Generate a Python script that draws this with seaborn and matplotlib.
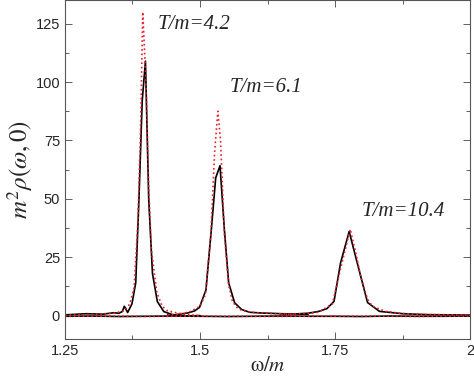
import numpy as np
import pandas as pd
import matplotlib
matplotlib.use('Agg')
import matplotlib.pyplot as plt
import seaborn as sns
from matplotlib.ticker import MultipleLocator

# spectral function peaks, omega/m vs m^2 rho(omega,0)
# T/m = 4.2
x_42_black = [1.25, 1.29, 1.32, 1.34, 1.35, 1.356, 1.36, 1.366, 1.374, 1.381, 1.387, 1.393,
              1.399, 1.405, 1.412, 1.421, 1.433, 1.449, 1.47, 1.50]
y_42_black = [0.3, 0.8, 0.6, 1.2, 1.0, 1.7, 4.0, 1.3, 5.0, 14.0, 50.0, 92.0,
              109.0, 50.0, 18.0, 6.0, 1.7, 0.4, -0.2, 0.0]
x_42_red = [1.25, 1.30, 1.34, 1.36, 1.37, 1.378, 1.385, 1.39, 1.394, 1.40, 1.405, 1.41,
            1.42, 1.43, 1.44, 1.46, 1.48, 1.50]
y_42_red = [0.2, 0.5, 1.0, 2.0, 5.0, 12.0, 40.0, 80.0, 130.0, 100.0, 55.0, 28.0,
            10.0, 4.0, 2.0, 1.0, 0.3, 0.0]

# T/m = 6.1
x_61_black = [1.44, 1.446, 1.462, 1.477, 1.49, 1.499, 1.511, 1.521, 1.529, 1.537, 1.545,
              1.553, 1.564, 1.577, 1.592, 1.614, 1.65, 1.676, 1.70]
y_61_black = [0.3, 0.0, 0.6, 1.1, 2.0, 3.5, 11.0, 37.0, 59.0, 64.2, 37.0,
              14.0, 5.5, 2.6, 1.4, 1.1, 0.8, 0.7, 0.5]
x_61_red = [1.44, 1.46, 1.48, 1.50, 1.51, 1.52, 1.527, 1.533, 1.538, 1.545, 1.553,
            1.56, 1.57, 1.58, 1.60, 1.64, 1.68]
y_61_red = [0.3, 0.6, 1.5, 4.0, 9.0, 35.0, 70.0, 87.5, 75.0, 35.0, 13.0,
            6.0, 3.0, 2.0, 1.3, 0.8, 0.5]

# T/m = 10.4
x_104_black = [1.65, 1.676, 1.70, 1.72, 1.735, 1.748, 1.76, 1.776, 1.791, 1.81, 1.832,
               1.875, 1.92, 2.0]
y_104_black = [0.5, 0.7, 1.0, 1.8, 3.0, 6.1, 22.5, 36.0, 22.5, 5.6, 1.8,
               0.8, 0.4, 0.2]
x_104_red = [1.65, 1.70, 1.72, 1.745, 1.76, 1.778, 1.79, 1.797, 1.81, 1.819, 1.843,
             1.87, 1.90, 2.0]
y_104_red = [0.5, 0.9, 1.5, 5.0, 20.0, 37.0, 25.0, 17.0, 7.0, 4.0, 1.8,
             1.0, 0.5, 0.2]

# flat curves near zero over whole range
x_base = [1.25, 1.30, 1.35, 1.40, 1.45, 1.50, 1.55, 1.60, 1.65, 1.70, 1.75, 1.80,
          1.85, 1.90, 1.95, 2.0]
y_base_black = [-0.3, -0.2, -0.4, -0.3, -0.2, -0.3, -0.4, -0.3, -0.2, -0.3, -0.3, -0.4,
                -0.2, -0.3, -0.3, -0.2]
y_base_red = [-0.2, -0.3, -0.2, -0.4, -0.3, -0.2, -0.3, -0.3, -0.4, -0.2, -0.3, -0.2,
              -0.3, -0.4, -0.2, -0.3]

labels = ['T/m=4.2', 'T/m=6.1', 'T/m=10.4']
label_pos = [(1.422, 124.5), (1.554, 97.5), (1.800, 44.5)]

sns.set_style("ticks")
plt.rcParams['font.family'] = ['Liberation Sans', 'DejaVu Sans']
plt.rcParams['mathtext.fontset'] = 'stix'

fig = plt.figure(figsize=(4.74, 3.77), dpi=100)
ax = fig.add_axes([0.137, 0.101, 0.855, 0.898])

black_sets = [(x_42_black, y_42_black), (x_61_black, y_61_black),
              (x_104_black, y_104_black), (x_base, y_base_black)]
red_sets = [(x_42_red, y_42_red), (x_61_red, y_61_red),
            (x_104_red, y_104_red), (x_base, y_base_red)]

for xs, ys in black_sets:
    df = pd.DataFrame({'w': xs, 'rho': ys})
    sns.lineplot(data=df, x='w', y='rho', color='black', lw=1.2, sort=False,
                 estimator=None, ax=ax)
for xs, ys in red_sets:
    df = pd.DataFrame({'w': xs, 'rho': ys})
    sns.lineplot(data=df, x='w', y='rho', color='#e8202a', lw=1.2, ls=':', sort=False,
                 estimator=None, ax=ax)

for txt, (tx, ty) in zip(labels, label_pos):
    ax.text(tx, ty, txt, fontsize=15, family='Liberation Serif', style='italic',
            va='center', ha='left')

ax.set_xlim(1.25, 2.0)
ax.set_ylim(-10, 135)
ax.xaxis.set_major_locator(MultipleLocator(0.25))
ax.xaxis.set_minor_locator(MultipleLocator(0.125))
ax.yaxis.set_major_locator(MultipleLocator(25))
ax.yaxis.set_minor_locator(MultipleLocator(12.5))
ax.set_xticks([1.25, 1.5, 1.75, 2.0])
ax.set_xticklabels(['1.25', '1.5', '1.75', '2'])
ax.tick_params(which='both', direction='in', top=True, right=True, labelsize=10.5,
               width=0.6, color='#444444')
ax.tick_params(which='major', length=5)
ax.tick_params(which='minor', length=3)
for sp in ax.spines.values():
    sp.set_linewidth(0.8)
    sp.set_color('#555555')

ax.set_xlabel(r'$\mathrm{\omega}/m$', fontsize=15, labelpad=-1)
ax.set_ylabel(r'$m^2\rho(\omega,0)$', fontsize=18, labelpad=0)

fig.savefig('out.png', dpi=100)
